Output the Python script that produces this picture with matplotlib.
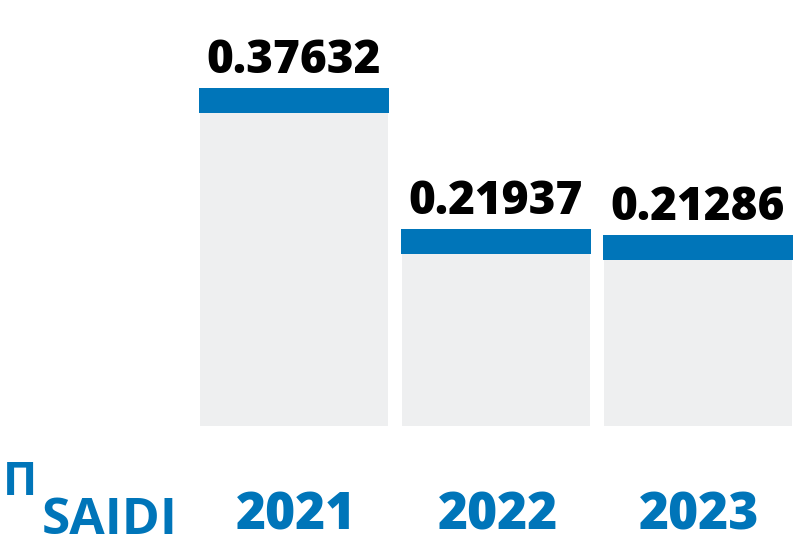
import matplotlib.pyplot as plt

years = ['2021', '2022', '2023']
saidi = [0.37632, 0.21937, 0.21286]
labels = ['0.37632', '0.21937', '0.21286']

blue = '#0075b9'
gray = '#eeeff0'

fig = plt.figure(figsize=(8.0, 5.46), dpi=100)
ax = fig.add_axes([0, 0, 1, 1])
ax.axis('off')

x = list(range(len(years)))
width = 0.93
band = 0.028

ax.bar(x, saidi, width=width, color=gray, zorder=1)
ax.bar(x, [band] * len(saidi), bottom=[v - band for v in saidi],
       width=width + 0.01, color=blue, zorder=2)

for xi, v, lab in zip(x, saidi, labels):
    ax.text(xi, v + 0.004, lab, ha='center', va='bottom', fontsize=33,
            fontweight='heavy', family='Open Sans', color='black')

ax.set_xlim(-1.455, 2.507)
ax.set_ylim(-0.1336, 0.4744)

for xi, yr in zip(x, years):
    ax.text(xi + 0.01, -0.1, yr, ha='center', va='center', fontsize=37,
            fontweight='heavy', family='Open Sans', color=blue)

fig.text(0.004, 0.074, 'П', ha='left', va='bottom', fontsize=33,
         fontweight='bold', family='Open Sans', color=blue)
fig.text(0.052, 0.045, 'SAIDI', ha='left', va='center', fontsize=37,
         fontweight='bold', family='Open Sans', color=blue)

fig.savefig('out.png', dpi=100)
